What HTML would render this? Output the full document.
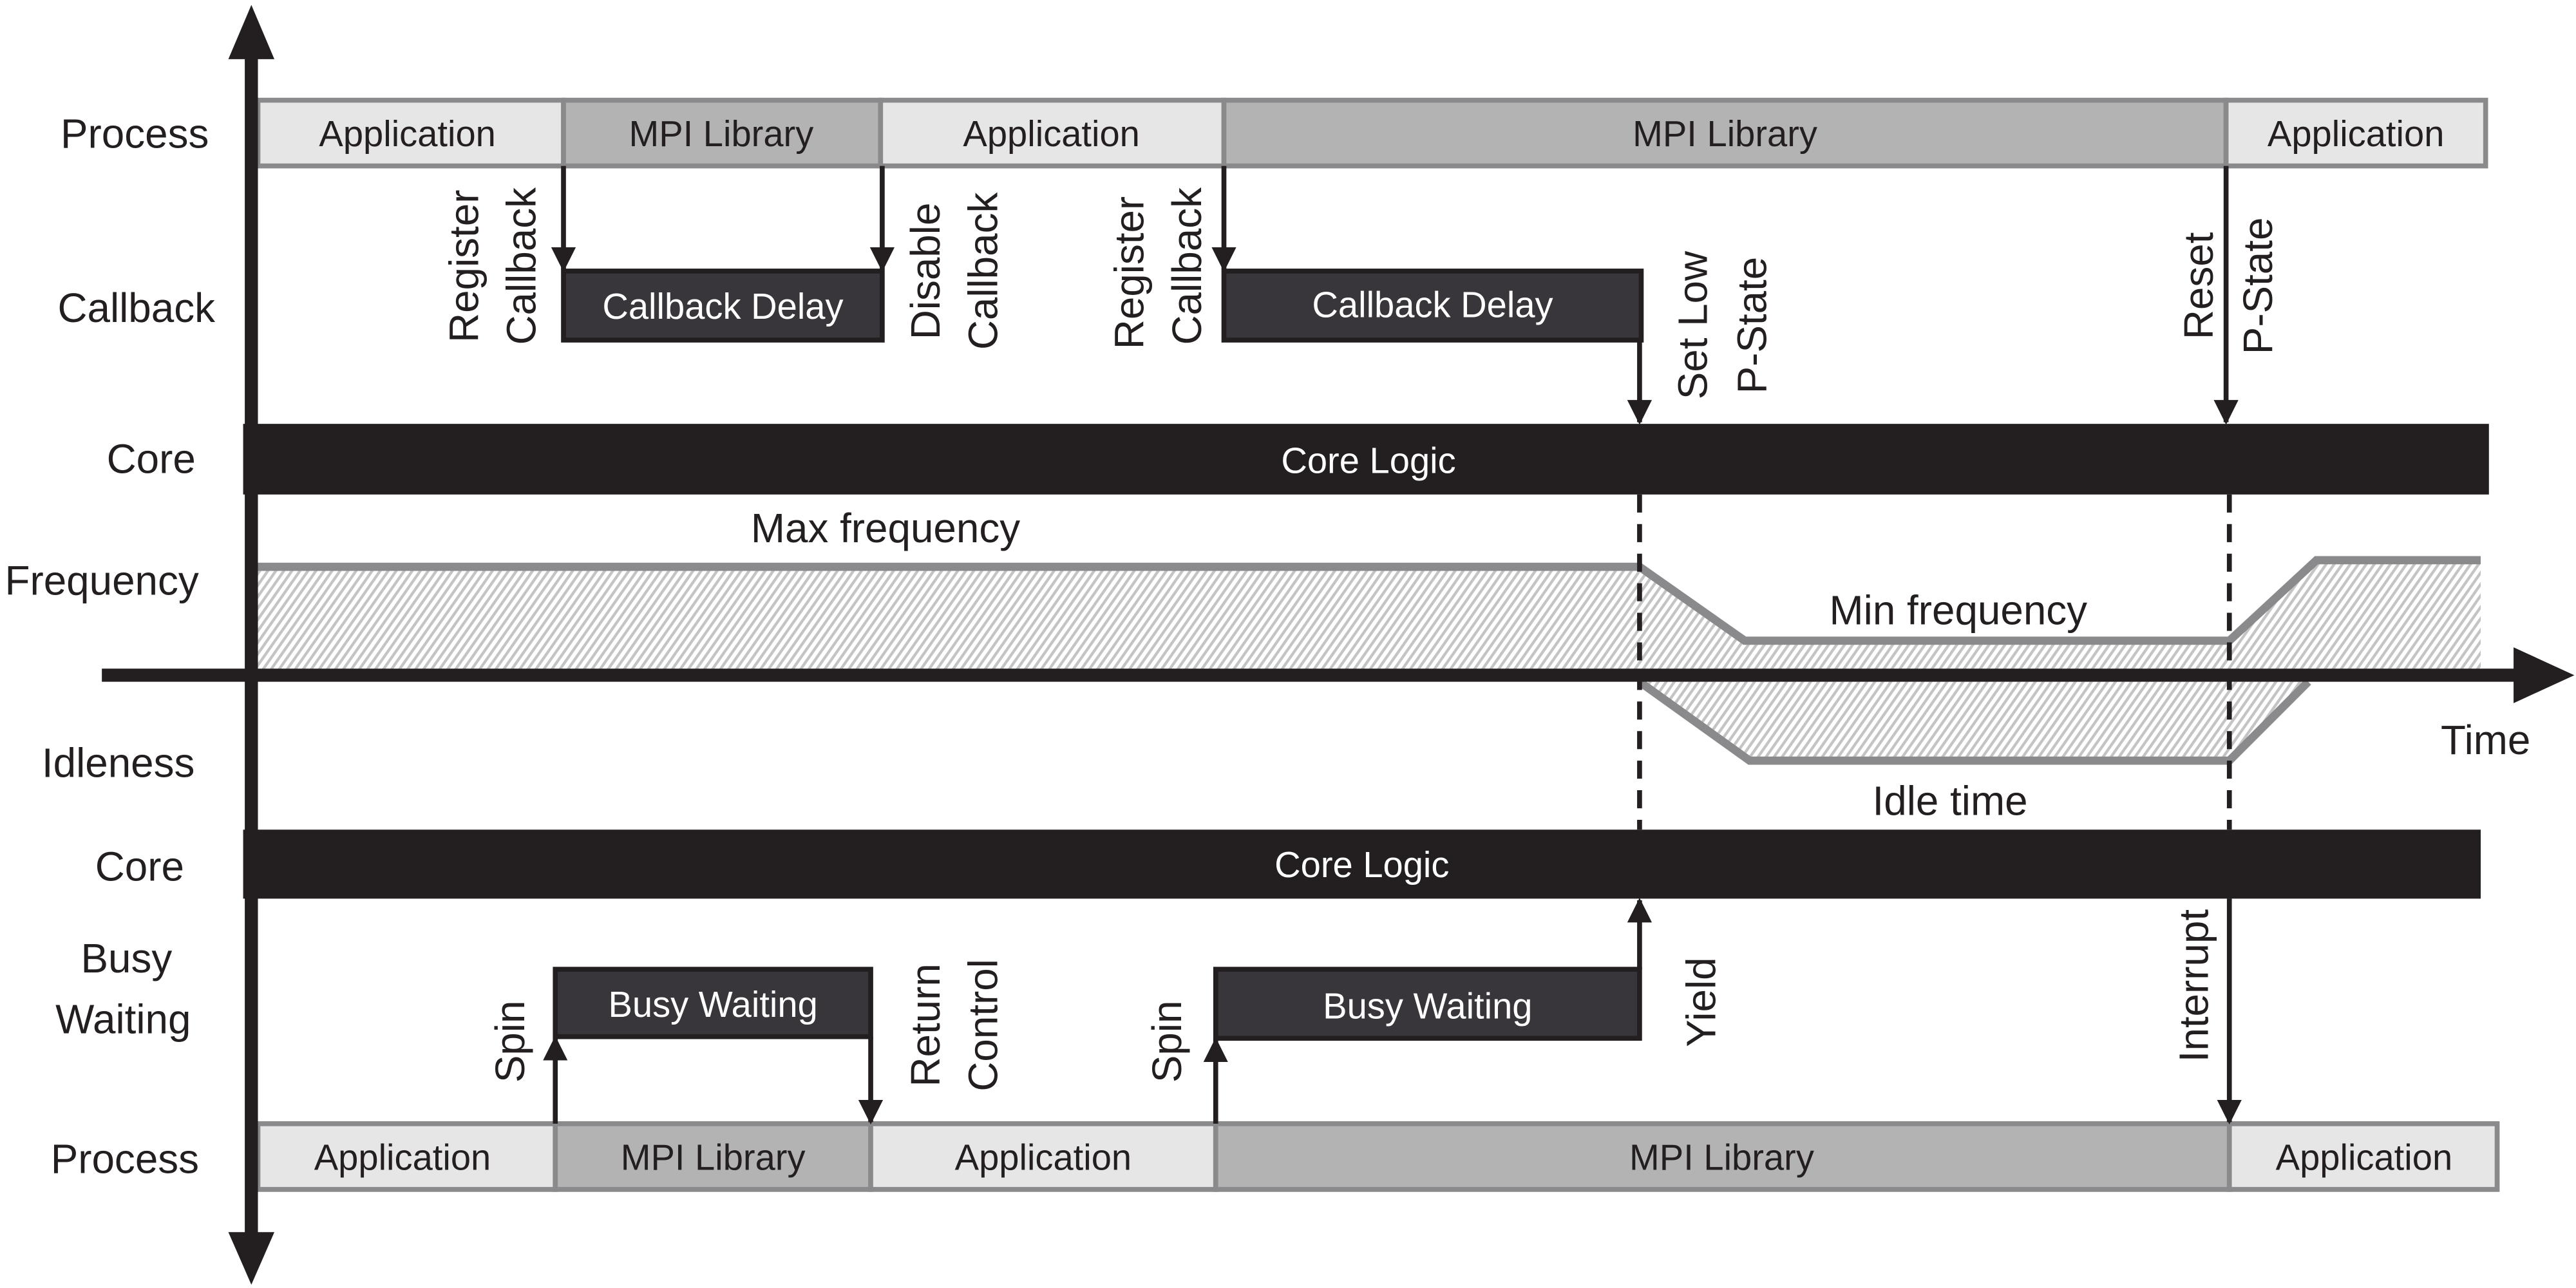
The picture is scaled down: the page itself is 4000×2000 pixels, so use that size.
<!DOCTYPE html>
<html><head><meta charset="utf-8"><style>
html,body{margin:0;padding:0;background:#fff}
svg{display:block}
text{font-family:"Liberation Sans",sans-serif;fill:#231f20}
</style></head><body>
<svg width="4000" height="2000" viewBox="0 0 1568 784" xmlns="http://www.w3.org/2000/svg">
<defs>
<pattern id="h" width="4" height="4" patternUnits="userSpaceOnUse" patternTransform="rotate(35)">
<rect width="4" height="4" fill="#fff"/><rect width="1.7" height="4" fill="#c4c4c4"/>
</pattern>
<marker id="a" viewBox="0 0 10 10" refX="9" refY="5" markerWidth="5" markerHeight="5" orient="auto"><path d="M0,0L10,5L0,10z" fill="#231f20"/></marker>
</defs>
<!-- hatched regions -->
<path d="M157,345 L998,345 L1062,390 L1357,390 L1410,341 L1510,341 L1510,408 L157,408Z" fill="url(#h)"/>
<path d="M998,415 L1065,463 L1357,463 L1405,415Z" fill="url(#h)"/>
<path d="M157,345 L998,345 L1062,390 L1357,390 L1410,341 L1510,341" fill="none" stroke="#8a8a8d" stroke-width="5"/>
<path d="M998,415 L1065,463 L1357,463 L1405,415" fill="none" stroke="#8a8a8d" stroke-width="5"/>
<!-- dashed -->
<line x1="998" y1="301" x2="998" y2="505" stroke="#231f20" stroke-width="3" stroke-dasharray="11,7"/>
<line x1="1357" y1="301" x2="1357" y2="505" stroke="#231f20" stroke-width="3" stroke-dasharray="11,7"/>
<!-- top process bar -->
<g stroke="#8a8a8d" stroke-width="3">
<rect x="157" y="61" width="186" height="40" fill="#e6e6e6"/>
<rect x="343" y="61" width="193" height="40" fill="#b3b3b3"/>
<rect x="536" y="61" width="209" height="40" fill="#e6e6e6"/>
<rect x="745" y="61" width="610" height="40" fill="#b3b3b3"/>
<rect x="1355" y="61" width="158" height="40" fill="#e6e6e6"/>
</g>
<g font-size="22" text-anchor="middle">
<text x="248" y="89">Application</text><text x="439" y="89">MPI Library</text>
<text x="640" y="89">Application</text><text x="1050" y="89">MPI Library</text>
<text x="1434" y="89">Application</text>
</g>
<!-- bottom process bar -->
<g stroke="#8a8a8d" stroke-width="3">
<rect x="157" y="684" width="181" height="40" fill="#e6e6e6"/>
<rect x="338" y="684" width="192" height="40" fill="#b3b3b3"/>
<rect x="530" y="684" width="210" height="40" fill="#e6e6e6"/>
<rect x="740" y="684" width="617" height="40" fill="#b3b3b3"/>
<rect x="1357" y="684" width="163" height="40" fill="#e6e6e6"/>
</g>
<g font-size="22" text-anchor="middle">
<text x="245" y="712">Application</text><text x="434" y="712">MPI Library</text>
<text x="635" y="712">Application</text><text x="1048" y="712">MPI Library</text>
<text x="1439" y="712">Application</text>
</g>
<!-- callback boxes -->
<g stroke="#231f20" stroke-width="3" fill="#38363a">
<rect x="343" y="165" width="194" height="42"/>
<rect x="745" y="165" width="254" height="42"/>
<rect x="338" y="590" width="192" height="41"/>
<rect x="740" y="590" width="258" height="42"/>
</g>
<g font-size="22" text-anchor="middle" style="fill:#fff">
<text x="440" y="194" style="fill:#fff">Callback Delay</text>
<text x="872" y="193" style="fill:#fff">Callback Delay</text>
<text x="434" y="619" style="fill:#fff">Busy Waiting</text>
<text x="869" y="620" style="fill:#fff">Busy Waiting</text>
</g>
<!-- core bars -->
<rect x="148" y="258" width="1367" height="43" fill="#231f20"/>
<rect x="148" y="505" width="1362" height="42" fill="#231f20"/>
<text x="833" y="288" font-size="22" text-anchor="middle" style="fill:#fff">Core Logic</text>
<text x="829" y="534" font-size="22" text-anchor="middle" style="fill:#fff">Core Logic</text>
<!-- arrows -->
<g stroke="#231f20" stroke-width="3" marker-end="url(#a)">
<line x1="343" y1="101" x2="343" y2="164"/>
<line x1="537" y1="101" x2="537" y2="164"/>
<line x1="745" y1="101" x2="745" y2="164"/>
<line x1="998" y1="207" x2="998" y2="257"/>
<line x1="1355" y1="101" x2="1355" y2="257"/>
<line x1="338" y1="684" x2="338" y2="632"/>
<line x1="530" y1="631" x2="530" y2="683"/>
<line x1="740" y1="684" x2="740" y2="633"/>
<polyline points="998,590 998,548" fill="none"/>
<line x1="1357" y1="547" x2="1357" y2="683"/>
</g>
<!-- axes -->
<line x1="153" y1="30" x2="153" y2="760" stroke="#231f20" stroke-width="8"/>
<path d="M153,3 L139,36 L167,36Z" fill="#231f20"/>
<path d="M153,782 L139,750 L167,750Z" fill="#231f20"/>
<line x1="62" y1="411" x2="1535" y2="411" stroke="#231f20" stroke-width="8"/>
<path d="M1567,411 L1530,394 L1530,428Z" fill="#231f20"/>
<!-- left labels -->
<g font-size="25" text-anchor="middle">
<text x="82" y="90">Process</text>
<text x="83" y="196">Callback</text>
<text x="92" y="288">Core</text>
<text x="62" y="362">Frequency</text>
<text x="72" y="473">Idleness</text>
<text x="85" y="536">Core</text>
<text x="77" y="592">Busy</text>
<text x="75" y="629">Waiting</text>
<text x="76" y="714">Process</text>
<text x="539" y="330">Max frequency</text>
<text x="1192" y="380">Min frequency</text>
<text x="1187" y="496">Idle time</text>
<text x="1513" y="459">Time</text>
</g>
<!-- rotated labels -->
<g font-size="25" text-anchor="middle">
<text transform="translate(291,162) rotate(-90)">Register</text>
<text transform="translate(326,162) rotate(-90)">Callback</text>
<text transform="translate(572,165) rotate(-90)">Disable</text>
<text transform="translate(607,165) rotate(-90)">Callback</text>
<text transform="translate(696,166) rotate(-90)">Register</text>
<text transform="translate(731,162) rotate(-90)">Callback</text>
<text transform="translate(1039,198) rotate(-90)">Set Low</text>
<text transform="translate(1075,198) rotate(-90)">P-State</text>
<text transform="translate(1347,174) rotate(-90)">Reset</text>
<text transform="translate(1383,174) rotate(-90)">P-State</text>
<text transform="translate(319,634) rotate(-90)">Spin</text>
<text transform="translate(572,624) rotate(-90)">Return</text>
<text transform="translate(607,624) rotate(-90)">Control</text>
<text transform="translate(719,634) rotate(-90)">Spin</text>
<text transform="translate(1044,610) rotate(-90)">Yield</text>
<text transform="translate(1344,600) rotate(-90)">Interrupt</text>
</g>
</svg>
</body></html>
